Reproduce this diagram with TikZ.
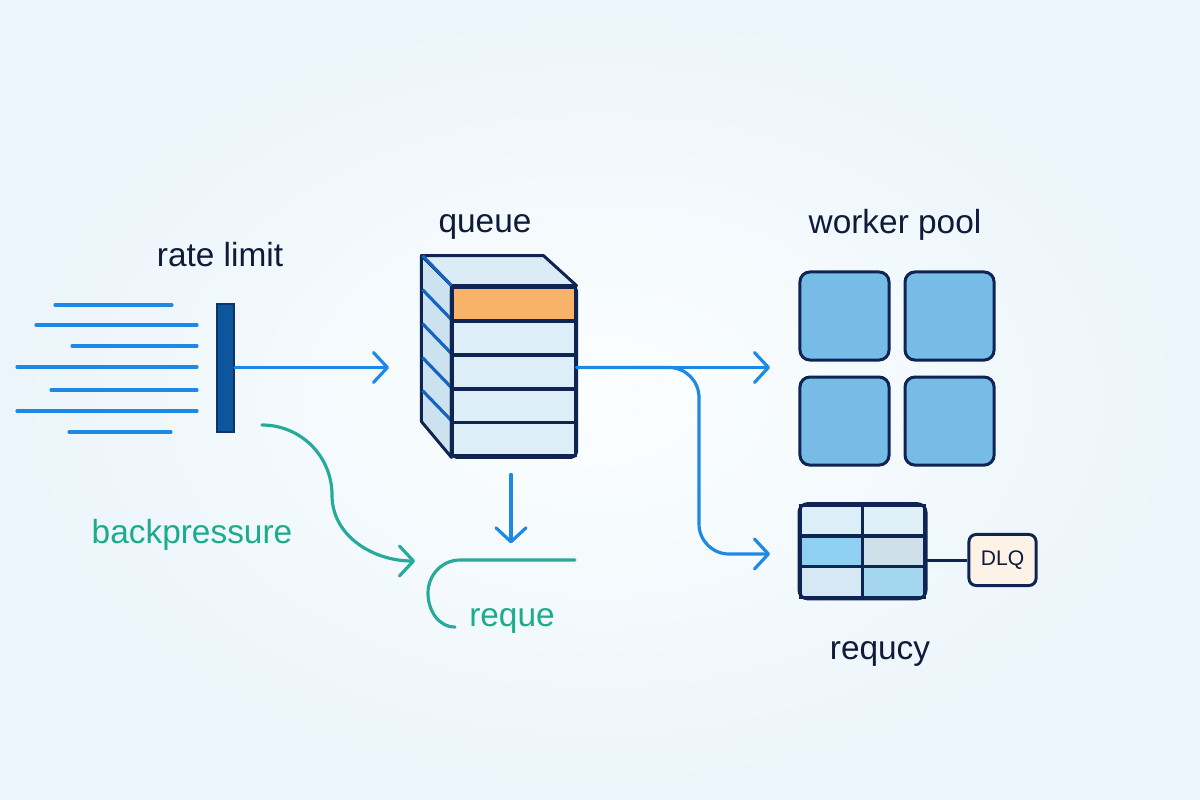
\documentclass[tikz,border=0pt]{standalone}
\usepackage{fontspec}
\setmainfont{Liberation Sans}
\usepackage{tikz}
\usetikzlibrary{positioning, calc, arrows.meta}

\definecolor{flowblue}{RGB}{30,136,229}
\definecolor{navy}{RGB}{14,36,82}
\definecolor{ink}{RGB}{14,28,58}
\definecolor{barblue}{RGB}{12,86,158}
\definecolor{backteal}{RGB}{38,170,156}
\definecolor{labteal}{RGB}{26,172,140}
\definecolor{hot}{RGB}{248,178,106}
\definecolor{rowfill}{RGB}{222,238,248}
\definecolor{sidefill}{RGB}{204,226,239}
\definecolor{topfill}{RGB}{220,236,246}
\definecolor{sideline}{RGB}{21,101,192}
\definecolor{workfill}{RGB}{118,188,230}
\definecolor{dlqfill}{RGB}{253,242,230}
\definecolor{cellA}{RGB}{220,238,248}
\definecolor{cellB}{RGB}{224,240,249}
\definecolor{cellC}{RGB}{143,208,240}
\definecolor{cellD}{RGB}{207,224,234}
\definecolor{cellE}{RGB}{213,232,243}
\definecolor{cellF}{RGB}{165,214,240}
\definecolor{bgin}{RGB}{251,254,255}
\definecolor{bgout}{RGB}{236,245,251}

\tikzset{
	flow/.style={draw=flowblue, line width=0.9pt, line cap=round, line join=round},
	back/.style={draw=backteal, line width=0.9pt, line cap=round},
	tip/.style={-{Straight Barb[length=1.4mm, width=3mm, line cap=round, line join=round]}},
	edge/.style={draw=navy, line width=0.85pt},
	lab/.style={text=ink, font=\fontsize{9.5}{11}\selectfont, anchor=base},
	qrow/.style={edge, fill=rowfill, minimum width=1.22cm, minimum height=0.338cm, inner sep=0},
	wbox/.style={edge, fill=workfill, rounded corners=2.8pt, minimum width=0.89cm, minimum height=0.88cm},
	cell/.style={edge, minimum width=0.62cm, minimum height=0.307cm, inner sep=0},
}

\begin{document}
\begin{tikzpicture}[x=0.01cm, y=-0.01cm]
\shade[inner color=bgin, outer color=bgout] (0,0) rectangle (1200,800);
\useasboundingbox (0,0) rectangle (1200,800);

\foreach \x/\y/\w in {55/305/117, 36/325/161, 72/346/125, 17/367/180, 51/390/146, 17/411/180, 69/432/102} {
	\draw[flow] (\x,\y) -- ++(\w,0);
}
\node[draw=navy!70!barblue, fill=barblue, line width=0.5pt, minimum width=0.17cm, minimum height=1.28cm, inner sep=0] (bar) at (225.5,368) {};
\node[lab] (ratelab) at (220,266) {rate limit};

\foreach \i/\y in {1/304, 2/338, 3/372, 4/406, 5/439} {
	\node[qrow] (q\i) at (514,\y) {};
}
\node[qrow, fill=hot] at (q1) {};
\draw[edge, fill=sidefill, line join=round] (q1.north west) -- ++(-30,-30) -- ++(0,166) -- (q5.south west) -- cycle;
\draw[edge, fill=topfill, line join=round] (q1.north west) -- ++(-30,-30) -- ++(122,0) -- (q1.north east) -- cycle;
\foreach \i in {1,...,5} {
	\draw[sideline, line width=0.9pt] (q\i.north west) -- ++(-29,-30);
}
\draw[edge, rounded corners=1.5pt] (q1.north west) rectangle (q5.south east);
\node[lab] (queuelab) at (485,232) {queue};

\node[wbox] (w1) at (844.5,316) {};
\node[wbox, right=0.13cm of w1] (w2) {};
\node[wbox, below=0.14cm of w1] (w3) {};
\node[wbox, right=0.13cm of w3] (w4) {};
\node[lab] (poollab) at (895,233) {worker pool};

\foreach \r/\y/\ca/\cb in {1/520.5/cellA/cellB, 2/551.5/cellC/cellD, 3/582/cellE/cellF} {
	\node[cell, fill=\ca] (c\r1) at (831.5,\y) {};
	\node[cell, fill=\cb] (c\r2) at (893.5,\y) {};
}
\draw[edge, rounded corners=2.5pt] (c11.north west) rectangle (c32.south east);
\node[edge, fill=dlqfill, rounded corners=2pt, minimum width=0.67cm, minimum height=0.51cm, text=ink, font=\fontsize{6}{7}\selectfont] (dlq) at (1002.5,560) {DLQ};
\draw[edge] (dlq.west) -- (dlq.west -| c22.east);
\node[lab] (requlab) at (880,659) {requcy};

\coordinate (qin) at (389,367.5);
\coordinate (qout) at ($(q3.east)+(0,-4.5)$);
\coordinate (wout) at (770,367.5);
\coordinate (drop) at (699,460);
\coordinate (rin) at (770,554);
\coordinate (qdown) at ($(q5.south)+(-3,86)$);
\draw[flow, tip] (bar.east |- qin) -- (qin);
\draw[flow, tip] (qout) -- (wout);
\draw[flow, tip, rounded corners=0.3cm] (qout) -| (drop) |- (rin);
\draw[flow, tip] ($(q5.south)+(-3,17)$) -- (qdown);

\coordinate (bpin) at (262,425);
\coordinate (bpout) at (415,561);
\draw[back, tip] (bpin) to[out=0, in=90] (332,495) to[out=-90, in=180] (bpout);
\draw[back] (575,560) -- (460,560) to[out=180, in=90] (428,593) to[out=-90, in=180] (455,627);
\node[lab, text=labteal] (bplab) at (192,543) {backpressure};
\node[lab, text=labteal] (requelab) at (512,626) {reque};
\end{tikzpicture}
\end{document}
